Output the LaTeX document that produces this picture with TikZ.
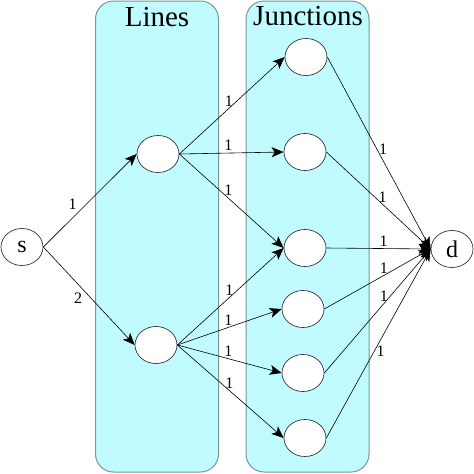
\documentclass[tikz,border=0pt]{standalone}
\usepackage{fontspec}
\setmainfont{Liberation Serif}
\usepackage{tikz}
\usetikzlibrary{shapes.geometric, arrows.meta}
\definecolor{panelfill}{RGB}{192,252,255}
\definecolor{paneldraw}{RGB}{120,150,150}
\tikzstyle{panel} = [rectangle, rounded corners=18pt, draw=paneldraw, line width=1pt, fill=panelfill, minimum width=123pt, minimum height=471pt]
\tikzstyle{title} = [font=\fontsize{29}{31}\selectfont, anchor=base]
\tikzstyle{vertex} = [ellipse, draw=black!80, line width=0.7pt, fill=white, minimum width=42pt, minimum height=37pt, inner sep=0pt, font=\fontsize{24}{26}\selectfont]
\tikzstyle{arrow} = [draw=black!75, line width=0.6pt, -{Stealth[length=12pt, width=10pt, inset=3pt]}, black]
\tikzstyle{weight} = [font=\fontsize{16}{18}\selectfont, inner sep=2pt]

\begin{document}
\begin{tikzpicture}[x=1pt, y=-1pt]
    \useasboundingbox (0,0) rectangle (474,474);
    % Panels
    \node (linespanel) [panel] at (157,236.5) {};
    \node (junctpanel) [panel] at (307.5,236.5) {};
    \node (linestitle) [title] at (157,26) {Lines};
    \node (juncttitle) [title] at (308,25) {Junctions};

    % Nodes
    \node (s) [vertex] at (22,247) {s};
    \node (l1) [vertex] at (158,154) {};
    \node (l2) [vertex] at (156,345) {};
    \node (j1) [vertex] at (306,57) {};
    \node (j2) [vertex] at (305,152) {};
    \node (j3) [vertex] at (305,248) {};
    \node (j4) [vertex] at (303,309) {};
    \node (j5) [vertex] at (303,373) {};
    \node (j6) [vertex] at (305,438) {};
    \node (d) [vertex] at (452,249) {d};

    % Arrows
    \draw [arrow] (s.east) -- node[weight, pos=0.38, above left] {1} (l1.west);
    \draw [arrow] (s.east) -- node[weight, pos=0.45, below left] {2} (l2.west);
    \draw [arrow] (l1.east) -- node[weight, pos=0.47, above] {1} (j1.west);
    \draw [arrow] (l1.east) -- node[weight, pos=0.47, above] {1} (j2.west);
    \draw [arrow] (l1.east) -- node[weight, pos=0.47, above] {1} (j3.west);
    \draw [arrow] (l2.east) -- node[weight, pos=0.49, above] {1} (j3.west);
    \draw [arrow] (l2.east) -- node[weight, pos=0.49, above] {1} (j4.west);
    \draw [arrow] (l2.east) -- node[weight, pos=0.49, above] {1} (j5.west);
    \draw [arrow] (l2.east) -- node[weight, pos=0.49, above] {1} (j6.west);
    \draw [arrow] (j1.east) -- node[weight, pos=0.48, right] {1} (d.west);
    \draw [arrow] (j2.east) -- node[weight, pos=0.54, above] {1} (d.west);
    \draw [arrow] (j3.east) -- node[weight, pos=0.55, above] {1} (d.west);
    \draw [arrow] (j4.east) -- node[weight, pos=0.56, above] {1} (d.west);
    \draw [arrow] (j5.east) -- node[weight, pos=0.56, above] {1} (d.west);
    \draw [arrow] (j6.east) -- node[weight, pos=0.46, right] {1} (d.west);

  \end{tikzpicture}
\end{document}
